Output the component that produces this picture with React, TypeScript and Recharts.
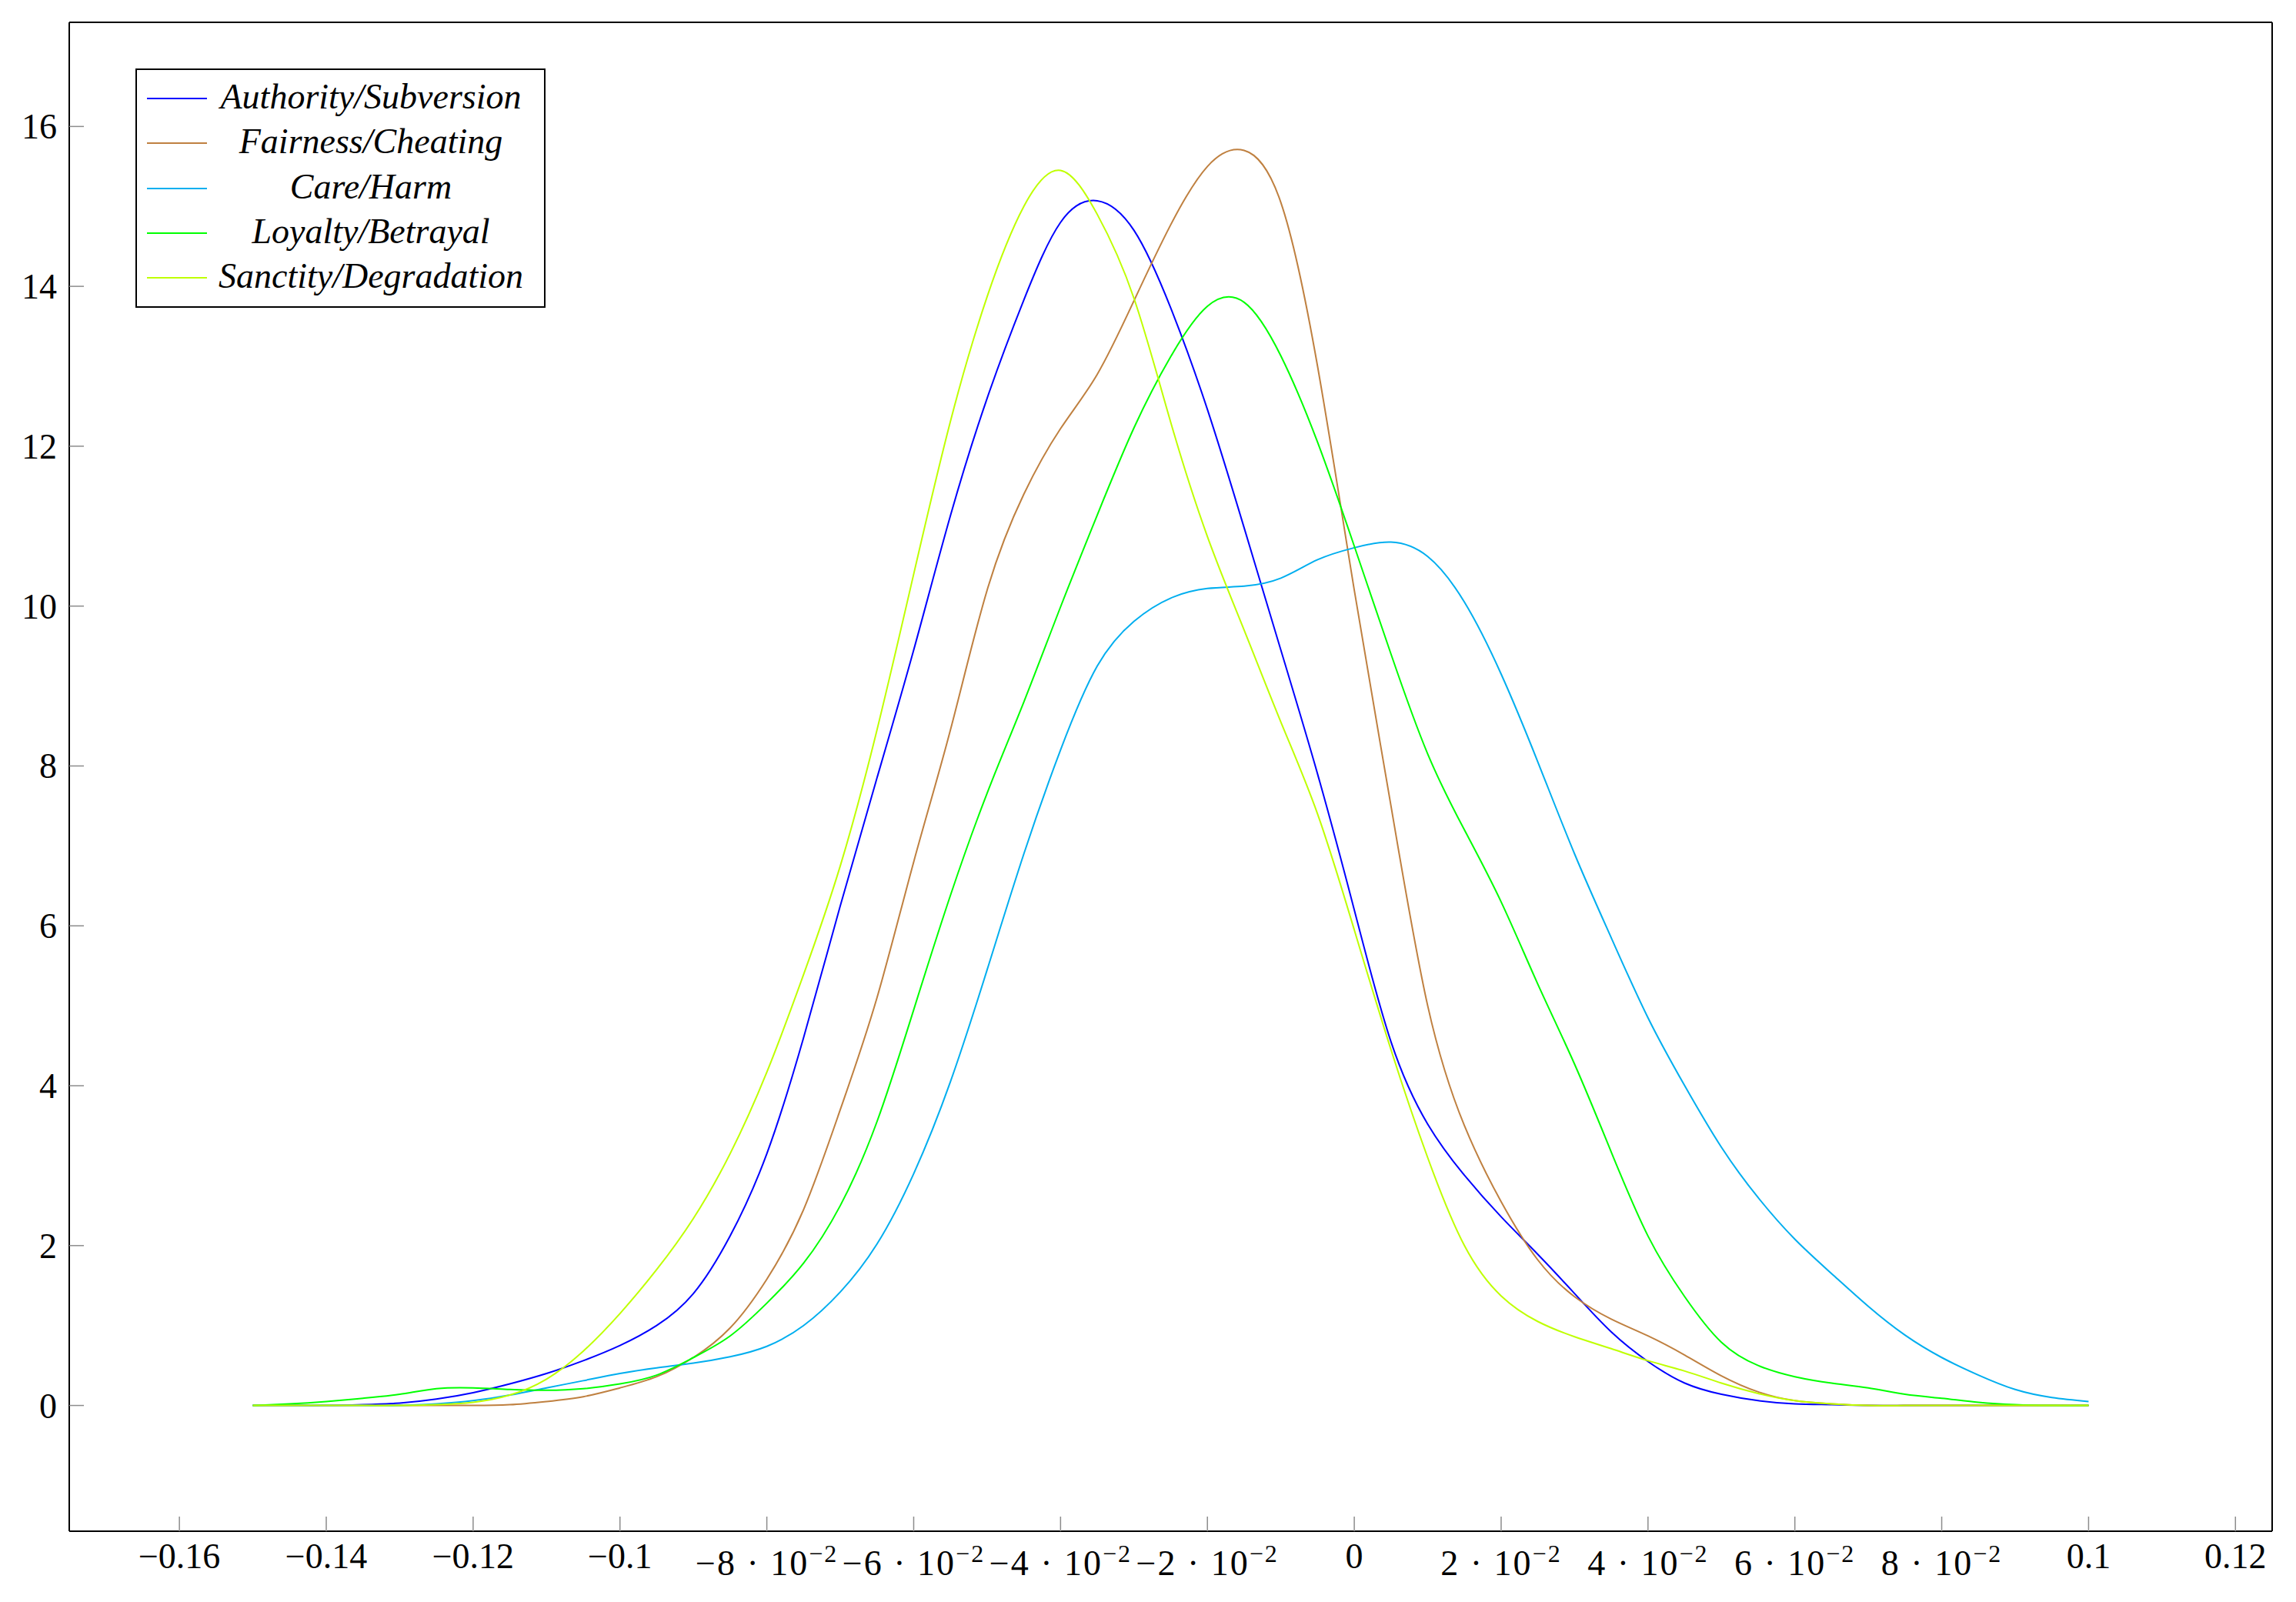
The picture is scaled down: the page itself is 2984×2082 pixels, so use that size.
import React from "react";
import { LineChart, Line, XAxis, YAxis, Legend } from "recharts";

// kernel density estimates, sampled every 0.005
const X_VALUES = [
  -0.15, -0.145, -0.14, -0.135, -0.13, -0.125, -0.12, -0.115, -0.11, -0.105,
  -0.1, -0.095, -0.09, -0.085, -0.08, -0.075, -0.07, -0.065, -0.06, -0.055,
  -0.05, -0.045, -0.04, -0.035, -0.03, -0.025, -0.02, -0.015, -0.01, -0.005,
  0, 0.005, 0.01, 0.015, 0.02, 0.025, 0.03, 0.035, 0.04, 0.045,
  0.05, 0.055, 0.06, 0.065, 0.07, 0.075, 0.08, 0.085, 0.09, 0.095,
  0.1,
];

const AUTHORITY = [
  0, 0, 0, 0.01, 0.03, 0.08, 0.16, 0.27, 0.4, 0.56,
  0.75, 1.0, 1.4, 2.12, 3.15, 4.6, 6.25, 7.85, 9.45, 11.13,
  12.6, 13.83, 14.8, 15.07, 14.7, 13.73, 12.46, 10.98, 9.45, 7.9,
  6.2, 4.55, 3.52, 2.88, 2.36, 1.89, 1.4, 0.92, 0.55, 0.28,
  0.14, 0.06, 0.02, 0.01, 0, 0, 0, 0, 0, 0,
  0,
];

const FAIRNESS = [
  0, 0, 0, 0, 0, 0, 0, 0.01, 0.05, 0.11,
  0.22, 0.36, 0.6, 0.97, 1.58, 2.45, 3.7, 5.1, 6.8, 8.45,
  10.2, 11.4, 12.22, 12.9, 13.82, 14.77, 15.5, 15.7, 15.05, 13.0,
  10.2, 7.5, 5.0, 3.5, 2.55, 1.82, 1.36, 1.08, 0.87, 0.63,
  0.37, 0.17, 0.06, 0.02, 0, 0, 0, 0, 0, 0,
  0,
];

const CARE = [
  0, 0, 0, 0, 0, 0.02, 0.06, 0.13, 0.22, 0.31,
  0.4, 0.47, 0.53, 0.61, 0.74, 1.0, 1.42, 2.02, 2.9, 4.05,
  5.45, 6.9, 8.2, 9.25, 9.81, 10.1, 10.22, 10.25, 10.35, 10.58,
  10.73, 10.8, 10.62, 10.05, 9.15, 8.05, 6.9, 5.85, 4.85, 4.0,
  3.23, 2.6, 2.08, 1.65, 1.24, 0.88, 0.6, 0.38, 0.2, 0.1,
  0.05,
];

const LOYALTY = [
  0, 0.02, 0.05, 0.09, 0.14, 0.21, 0.22, 0.2, 0.19, 0.21,
  0.27, 0.38, 0.6, 0.87, 1.28, 1.78, 2.5, 3.55, 4.95, 6.38,
  7.66, 8.8, 9.99, 11.14, 12.23, 13.12, 13.75, 13.8, 13.13, 12.05,
  10.75, 9.4, 8.15, 7.2, 6.3, 5.27, 4.27, 3.17, 2.12, 1.36,
  0.79, 0.5, 0.36, 0.28, 0.22, 0.14, 0.09, 0.04, 0.01, 0,
  0,
];

const SANCTITY = [
  0, 0, 0, 0, 0, 0.01, 0.04, 0.13, 0.33, 0.68,
  1.15, 1.7, 2.34, 3.15, 4.17, 5.39, 6.75, 8.45, 10.4, 12.31,
  13.87, 15.0, 15.45, 14.9, 13.85, 12.3, 10.87, 9.7, 8.55, 7.4,
  5.95, 4.45, 3.1, 2.0, 1.37, 1.05, 0.86, 0.71, 0.56, 0.43,
  0.28, 0.15, 0.06, 0.02, 0, 0, 0, 0, 0, 0,
  0,
];

const X_TICKS = [
  -0.16, -0.14, -0.12, -0.1, -0.08, -0.06, -0.04, -0.02, 0, 0.02, 0.04, 0.06, 0.08, 0.1, 0.12,
];
// [base, exponent]
const X_TICK_LABELS = [
  ["\u22120.16", ""],
  ["\u22120.14", ""],
  ["\u22120.12", ""],
  ["\u22120.1", ""],
  ["\u22128 \u00b7 10", "\u22122"],
  ["\u22126 \u00b7 10", "\u22122"],
  ["\u22124 \u00b7 10", "\u22122"],
  ["\u22122 \u00b7 10", "\u22122"],
  ["0", ""],
  ["2 \u00b7 10", "\u22122"],
  ["4 \u00b7 10", "\u22122"],
  ["6 \u00b7 10", "\u22122"],
  ["8 \u00b7 10", "\u22122"],
  ["0.1", ""],
  ["0.12", ""],
];
const Y_TICKS = [0, 2, 4, 6, 8, 10, 12, 14, 16];

const SERIES = [
  { key: "authority", name: "Authority/Subversion", color: "#0000ff", values: AUTHORITY },
  { key: "fairness", name: "Fairness/Cheating", color: "#bf8040", values: FAIRNESS },
  { key: "care", name: "Care/Harm", color: "#00aeef", values: CARE },
  { key: "loyalty", name: "Loyalty/Betrayal", color: "#00ff00", values: LOYALTY },
  { key: "sanctity", name: "Sanctity/Degradation", color: "#bfff00", values: SANCTITY },
];

const data = X_VALUES.map((x, i) => {
  const row: Record<string, number> = { x };
  SERIES.forEach((s) => (row[s.key] = s.values[i]));
  return row;
});

const W = 2984;
const H = 2082;
const FONT = "'Liberation Serif', 'DejaVu Serif', serif";
const TICK_LEN = 19;
const TICK_COLOR = "#8c8c8c";
const X_DOMAIN = [-0.175, 0.125];
const Y_DOMAIN = [-1.573, 17.303];
const AXIS_LINE = { stroke: "#000", strokeWidth: 2 };
const TICK_LINE = { stroke: TICK_COLOR, strokeWidth: 1.5 };

function XTick(props: any) {
  const { x, y, payload } = props;
  const i = X_TICKS.findIndex((t) => Math.abs(t - payload.value) < 1e-9);
  const [base, exp] = X_TICK_LABELS[i] ?? [String(payload.value), ""];
  return (
    <g>
      <line x1={x} x2={x} y1={y} y2={y - TICK_LEN} {...TICK_LINE} />
      <text
        x={x}
        y={y + (exp ? 57 : 48)}
        textAnchor="middle"
        fontSize={46}
        fontFamily={FONT}
        letterSpacing={exp ? 2 : 0}
        fill="#000"
      >
        {base}
        {exp && (
          <tspan dy={-17} fontSize={32}>
            {exp}
          </tspan>
        )}
      </text>
    </g>
  );
}

function YTick(props: any) {
  const { x, y, payload } = props;
  return (
    <g>
      <line x1={x} x2={x + TICK_LEN} y1={y} y2={y} {...TICK_LINE} />
      <text x={x - 16} y={y + 16} textAnchor="end" fontSize={46} fontFamily={FONT} fill="#000">
        {payload.value}
      </text>
    </g>
  );
}

function LegendBox() {
  return (
    <div
      style={{
        boxSizing: "border-box",
        width: 533,
        height: 311,
        border: "2px solid #000",
        background: "#fff",
        padding: "8px 0",
      }}
    >
      {SERIES.map((s) => (
        <div key={s.key} style={{ display: "flex", alignItems: "center", height: 58.25 }}>
          <div style={{ width: 78, height: 2, background: s.color, marginLeft: 13 }} />
          <div
            style={{
              width: 414,
              marginLeft: 6,
              textAlign: "center",
              fontStyle: "italic",
              fontSize: 46,
              lineHeight: "58.25px",
              fontFamily: FONT,
              color: "#000",
              position: "relative",
              top: -2,
            }}
          >
            {s.name}
          </div>
        </div>
      ))}
    </div>
  );
}

export default function App() {
  return (
    <div style={{ position: "absolute", left: 0, top: 0, width: W, height: H, background: "#fff" }}>
      <LineChart width={W} height={H} data={data} margin={{ top: 29, right: 31, bottom: 91, left: 89 }}>
        <XAxis
          type="number"
          dataKey="x"
          domain={X_DOMAIN}
          ticks={X_TICKS}
          interval={0}
          allowDataOverflow
          height={1}
          tickSize={0}
          tickMargin={0}
          tickLine={false}
          tick={<XTick />}
          axisLine={AXIS_LINE}
        />
        <XAxis
          xAxisId="top"
          orientation="top"
          type="number"
          dataKey="x"
          domain={X_DOMAIN}
          ticks={X_TICKS}
          interval={0}
          allowDataOverflow
          height={1}
          mirror
          tick={false}
          tickSize={TICK_LEN}
          tickLine={TICK_LINE}
          axisLine={AXIS_LINE}
        />
        <YAxis
          type="number"
          domain={Y_DOMAIN}
          ticks={Y_TICKS}
          interval={0}
          allowDataOverflow
          width={1}
          tickSize={0}
          tickMargin={0}
          tickLine={false}
          tick={<YTick />}
          axisLine={AXIS_LINE}
        />
        <YAxis
          yAxisId="right"
          orientation="right"
          type="number"
          domain={Y_DOMAIN}
          ticks={Y_TICKS}
          interval={0}
          allowDataOverflow
          width={1}
          mirror
          tick={false}
          tickSize={TICK_LEN}
          tickLine={TICK_LINE}
          axisLine={AXIS_LINE}
        />
        <Legend
          layout="horizontal"
          verticalAlign="middle"
          align="center"
          content={<LegendBox />}
          wrapperStyle={{ position: "absolute", left: 176, top: 89, width: 533, height: 311 }}
        />
        {SERIES.map((s) => (
          <Line
            key={s.key}
            type="natural"
            dataKey={s.key}
            name={s.name}
            stroke={s.color}
            strokeWidth={2}
            dot={false}
            activeDot={false}
            isAnimationActive={false}
          />
        ))}
      </LineChart>
    </div>
  );
}
